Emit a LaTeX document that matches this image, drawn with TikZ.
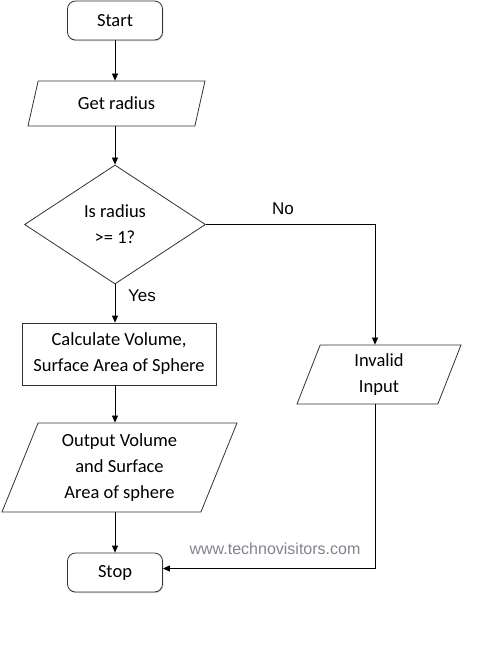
\documentclass[tikz,border=0pt]{standalone}
\usepackage{fontspec}
\setmainfont{Carlito}
\newfontfamily\arialfont{Liberation Sans}
\usetikzlibrary{shapes.geometric,arrows.meta,shadows}

\definecolor{linegray}{RGB}{50,50,50}
\definecolor{markgray}{RGB}{130,130,142}

\tikzset{
  flow/.style={draw=linegray, line width=0.8pt, align=center, inner sep=0pt,
    font=\fontsize{18.5}{26}\selectfont},
  terminal/.style={flow, rectangle, rounded corners=8pt, fill=white,
    minimum width=95pt, minimum height=39pt,
    drop shadow={shadow xshift=0.8pt, shadow yshift=-1.2pt, fill=black!30}},
  process/.style={flow, rectangle, minimum width=194pt, minimum height=62pt},
  decision/.style={flow, diamond, minimum width=181pt, minimum height=119pt},
  io/.style={flow, trapezium, trapezium stretches body,
    trapezium left angle=#1, trapezium right angle=180-#1},
  link/.style={draw=black, line width=0.8pt, -{Triangle[length=7pt,width=6pt]}},
  branch/.style={font=\arialfont\fontsize{17}{20}\selectfont},
  watermark/.style={text=markgray, font=\arialfont\fontsize{16}{20}\selectfont}
}

\begin{document}
\begin{tikzpicture}[x=1pt,y=-1pt]
    \useasboundingbox (0,0) rectangle (487,654);

    \node[terminal] (start) at (115,20.5) {Start};
    \node[io=52, minimum width=177pt, minimum height=45pt] (radius) at (116.5,103.5) {Get radius};
    \node[decision] (check) at (115,224.5) {Is radius\\>= 1?};
    \node[process] (calc) at (119,354) {Calculate Volume,\\Surface Area of Sphere};
    \node[io=62, minimum width=235pt, minimum height=89pt] (output) at (119.5,467.5) {Output Volume\\and Surface\\Area of sphere};
    \node[terminal] (stop) at (115,572.5) {Stop};
    \node[io=61, minimum width=164pt, minimum height=59pt] (invalid) at (379,374.5) {Invalid\\Input};

    \node[branch] (no) at (283,209) {No};
    \node[branch] (yes) at (142,296) {Yes};
    \node[watermark] (site) at (275,549) {www.technovisitors.com};

    \draw[link] (start) -- (start |- radius.north);
    \draw[link] (radius.south -| check) -- (check);
    \draw[link] (check) -- (check |- calc.north);
    \draw[link] (calc.south -| check) -- (check |- output.north);
    \draw[link] (output.south -| check) -- (stop);
    \draw[link] (check.east) -| ([xshift=-4pt]invalid.north);
    \draw[link] ([xshift=-4pt]invalid.south) |- ([yshift=4pt]stop.east);
  \end{tikzpicture}
\end{document}
